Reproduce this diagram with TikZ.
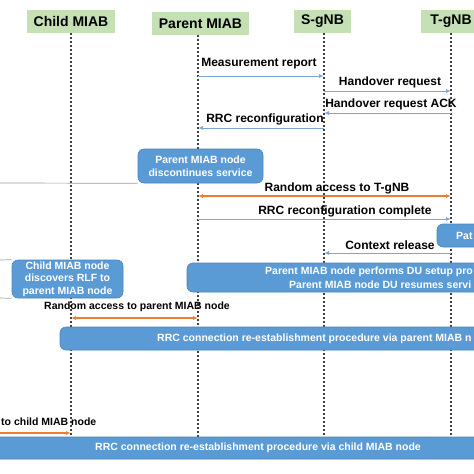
\documentclass[tikz,border=0pt]{standalone}
\usepackage{fontspec}
\setmainfont{Liberation Sans}
\usetikzlibrary{arrows.meta}
\definecolor{hdr}{HTML}{C5E0B4}
\definecolor{boxblue}{HTML}{5B9BD5}
\definecolor{boxedge}{HTML}{4A84BC}
\definecolor{msgblue}{HTML}{7AA6D8}
\definecolor{raorange}{HTML}{ED7D31}
\definecolor{life}{HTML}{404040}
\begin{document}
\begin{tikzpicture}[x=1pt,y=-1pt,
  hdrbox/.style={fill=hdr, minimum height=23pt, inner sep=0pt, font=\bfseries\fontsize{14}{16}\selectfont},
  lifeline/.style={draw=life, line width=1.1pt, dash pattern=on 2pt off 2pt},
  msg/.style={draw=msgblue, line width=1pt, -{Latex[length=5pt,width=4pt]}},
  ramsg/.style={draw=raorange, line width=1.1pt, {Latex[length=5pt,width=4pt]}-{Latex[length=5pt,width=4pt]}},
  rasingle/.style={draw=raorange, line width=1.1pt, -{Latex[length=5pt,width=4pt]}},
  lbl/.style={inner sep=0pt, font=\bfseries\fontsize{12}{14}\selectfont},
  smalllbl/.style={inner sep=0pt, font=\bfseries\fontsize{10.5}{12.5}\selectfont},
  procbox/.style={fill=boxblue, draw=boxedge, line width=0.6pt, rounded corners=6pt, inner sep=0pt,
    text=white, align=center, font=\bfseries\fontsize{10.5}{12.7}\selectfont},
  boxtext/.style={inner sep=0pt, text=white, font=\bfseries\fontsize{10.5}{12.7}\selectfont},
  sideline/.style={draw=gray!75, line width=0.7pt}]
\useasboundingbox (0,0) rectangle (474,474);
\clip (0,0) rectangle (474,474);

% headers
\node[hdrbox, minimum width=88pt] (hc) at (71,21.5) {Child MIAB};
\node[hdrbox, minimum width=97pt] (hp) at (200.5,23.5) {Parent MIAB};
\node[hdrbox, minimum width=57pt] (hs) at (322.5,21.5) {S-gNB};
\node[hdrbox, minimum width=60pt] (ht) at (451,21.5) {T-gNB};

% lifelines
\coordinate (ce) at (71,437);
\coordinate (pe) at (198,437);
\coordinate (se) at (324,437);
\coordinate (te) at (451,437);
\draw[lifeline] (hc.south -| ce) -- (ce);
\draw[lifeline] (hp.south -| pe) -- (pe);
\draw[lifeline] (hs.south -| se) -- (se);
\draw[lifeline] (ht.south -| te) -- (te);

% messages
\coordinate (m1a) at (198,76);  \coordinate (m1b) at (324,76);
\draw[msg] (m1a) -- (m1b);
\node[lbl] (l1) at (259,64) {Measurement report};

\coordinate (m2a) at (324,91);  \coordinate (m2b) at (451,91);
\draw[msg] (m2a) -- (m2b);
\node[lbl] (l2) at (390,82) {Handover request};

\coordinate (m3a) at (451,113); \coordinate (m3b) at (324,113);
\draw[msg] (m3a) -- (m3b);
\node[lbl] (l3) at (391,104) {Handover request ACK};

\coordinate (m4a) at (324,128); \coordinate (m4b) at (198,128);
\draw[msg] (m4a) -- (m4b);
\node[lbl] (l4) at (265,119) {RRC reconfiguration};

% parent discontinues service
\node[procbox, minimum width=125pt, minimum height=34pt] (b1) at (200.5,166) {Parent MIAB node\\discontinues service};
\coordinate (s1) at (0,183);
\draw[sideline] (s1) -- (b1.south west);

\coordinate (m5a) at (198,196); \coordinate (m5b) at (451,196);
\draw[ramsg] (m5a) -- (m5b);
\node[lbl] (l5) at (337,188) {Random access to T-gNB};

\coordinate (m6a) at (198,219); \coordinate (m6b) at (451,219);
\draw[msg] (m6a) -- (m6b);
\node[lbl] (l6) at (345,211) {RRC reconfiguration complete};

% path box at T-gNB
\node[procbox, minimum width=80pt, minimum height=23pt] (b2) at (477,235.5) {};
\node[boxtext, anchor=west] (b2t) at (456,235.5) {Pat};

\coordinate (m7a) at (451,253); \coordinate (m7b) at (324,253);
\draw[msg] (m7a) -- (m7b);
\node[lbl] (l7) at (390,245) {Context release};

% DU setup box
\node[procbox, minimum width=400pt, minimum height=29pt] (b3) at (387,277.5) {};
\node[boxtext, anchor=west] (b3a) at (265,271.5) {Parent MIAB node performs DU setup pro};
\node[boxtext, anchor=west] (b3b) at (289,284.5) {Parent MIAB node DU resumes servi};

% child discovers RLF
\node[procbox, minimum width=111pt, minimum height=38pt] (b4) at (67.5,279) {Child MIAB node\\discovers RLF to\\parent MIAB node};
\coordinate (s2) at (0,260);
\coordinate (s3) at (0,298);
\draw[sideline] (s2) -- (b4.north west);
\draw[sideline] (s3) -- (b4.south west);

% random access to parent
\coordinate (m8a) at (71,318); \coordinate (m8b) at (198,318);
\draw[ramsg] (m8a) -- (m8b);
\node[smalllbl] (l8) at (137,307) {Random access to parent MIAB node};

% RRC re-establishment via parent
\node[procbox, minimum width=527pt, minimum height=23pt] (b5) at (323.5,338.5) {};
\node[boxtext, anchor=west] (b5t) at (157,338.5) {RRC connection re-establishment procedure via parent MIAB n};

% random access to child
\coordinate (m9a) at (0,433); \coordinate (m9b) at (71,433);
\draw[rasingle] (m9a) -- (m9b);
\node[smalllbl, anchor=west] (l9) at (1,422) {to child MIAB node};

% RRC re-establishment via child
\node[procbox, minimum width=540pt, minimum height=22pt] (b6) at (258,448) {RRC connection re-establishment procedure via child MIAB node};
\end{tikzpicture}
\end{document}
